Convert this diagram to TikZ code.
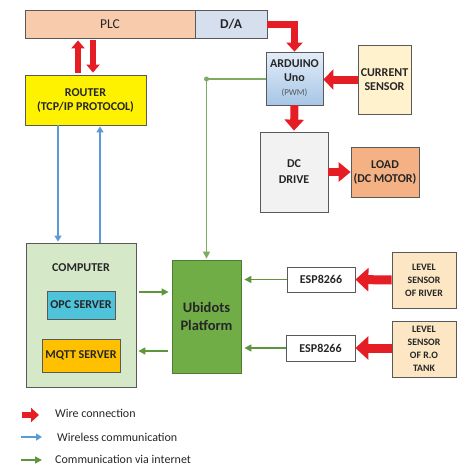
\documentclass[tikz,border=0pt]{standalone}
\usepackage{fontspec}
\setmainfont{Carlito}
\usetikzlibrary{arrows.meta,positioning,calc}
\definecolor{plcfill}{HTML}{F8CBAD}
\definecolor{dafill}{HTML}{D6DFEE}
\definecolor{routerfill}{HTML}{FFF200}
\definecolor{curfill}{HTML}{FFF2CC}
\definecolor{dcfill}{HTML}{F2F2F2}
\definecolor{loadfill}{HTML}{F4B183}
\definecolor{compfill}{HTML}{D5E8C8}
\definecolor{opcfill}{HTML}{4FC3DA}
\definecolor{mqttfill}{HTML}{FFC000}
\definecolor{ubifill}{HTML}{70AD47}
\definecolor{ubiedge}{HTML}{4E7F30}
\definecolor{lvlfill}{HTML}{FCE6C3}
\definecolor{boxedge}{HTML}{595959}
\definecolor{wirered}{HTML}{E51E25}
\definecolor{wlblue}{HTML}{5B9BD5}
\definecolor{netgreen}{HTML}{5E963D}
\definecolor{ardtop}{HTML}{E3EDF8}
\definecolor{ardbot}{HTML}{A7C6E6}
\definecolor{txt}{HTML}{262626}
\tikzset{
  blk/.style={draw=boxedge, line width=0.8pt, align=center, inner sep=0pt, text=txt,
    font=\fontsize{12}{14}\selectfont\bfseries},
  wire/.style={draw=wirered, line width=#1},
  wire/.default=7pt,
  wirehead/.style 2 args={-{Triangle[width=#1,length=#2]}},
  wless/.style={draw=wlblue, line width=1.5pt, -{Triangle[width=7pt,length=6pt]}},
  inet/.style={draw=netgreen, line width=1.5pt, -{Triangle[width=7pt,length=7pt]}},
  legtext/.style={anchor=west, font=\fontsize{12}{14}\selectfont, inner sep=0pt, text=txt}
}
\begin{document}
\begin{tikzpicture}[x=1pt,y=-1pt]
\useasboundingbox (0,0) rectangle (474,474);
% top row
\node[blk, fill=plcfill, minimum width=170pt, minimum height=28pt, font=\fontsize{13.5}{15}\selectfont] (plc) at (110,24) {PLC};
\node[blk, fill=dafill, minimum width=72pt, minimum height=28pt, font=\fontsize{13.5}{15}\selectfont\bfseries] (da) at (231,24) {D/A};
\node[blk, fill=routerfill, minimum width=121pt, minimum height=50pt] (router) at (85.5,100) {ROUTER\\(TCP/IP PROTOCOL)};
\node[blk, top color=ardtop, bottom color=ardbot, minimum width=57pt, minimum height=53pt] (ard) at (294.5,78.5) {ARDUINO\\[0pt]Uno\\[0pt]{\fontsize{9}{10}\selectfont\mdseries\color{black!65} (PWM)}};
\node[blk, fill=curfill, minimum width=53pt, minimum height=69pt] (cur) at (384.5,79.5) {CURRENT\\SENSOR};
\node[blk, fill=dcfill, minimum width=68pt, minimum height=80pt] (dc) at (294,172) {DC\\[2pt]DRIVE};
\node[blk, fill=loadfill, minimum width=68pt, minimum height=50pt] (load) at (385,172) {LOAD\\(DC MOTOR)};
% computer
\node[blk, fill=compfill, minimum width=110pt, minimum height=144pt] (comp) at (81,315) {};
\node[font=\fontsize{12}{14}\selectfont\bfseries, inner sep=0pt, text=txt] (complbl) at (81,268) {COMPUTER};
\node[blk, fill=opcfill, minimum width=68pt, minimum height=28pt] (opc) at (81,305) {OPC SERVER};
\node[blk, fill=mqttfill, minimum width=78pt, minimum height=33pt] (mqtt) at (81,355.5) {MQTT SERVER};
% ubidots
\node[blk, draw=ubiedge, fill=ubifill, minimum width=69pt, minimum height=113pt, font=\fontsize{14.5}{18}\selectfont\bfseries] (ubi) at (206.5,316.5) {Ubidots\\Platform};
% esp and level sensors
\node[blk, fill=white, minimum width=68pt, minimum height=25pt] (esp1) at (321,279.5) {ESP8266};
\node[blk, fill=white, minimum width=69pt, minimum height=26pt] (esp2) at (320.5,348) {ESP8266};
\node[blk, fill=lvlfill, minimum width=64pt, minimum height=56pt, font=\fontsize{9.8}{13}\selectfont\bfseries] (lvl1) at (424,280) {LEVEL\\SENSOR\\OF RIVER};
\node[blk, fill=lvlfill, minimum width=64pt, minimum height=56pt, font=\fontsize{9.8}{13}\selectfont\bfseries] (lvl2) at (424,349) {LEVEL\\SENSOR\\OF R.O\\TANK};
% wire connections
\draw[wire=6pt, wirehead={13pt}{8pt}, shorten >=2pt, shorten <=2pt] ([xshift=-7.5pt]router.north) -- ([xshift=-7.5pt]router.north |- plc.south);
\draw[wire=6pt, wirehead={13pt}{8pt}, shorten >=2pt, shorten <=2pt] ([xshift=7.5pt]router.north |- plc.south) -- ([xshift=7.5pt]router.north);
\draw[wire=7pt, wirehead={16pt}{9pt}, line join=miter] (da.east) -| (ard.north);
\draw[wire=8pt, wirehead={20pt}{10pt}] (cur.west) -- (ard.east |- cur.west);
\draw[wire=8pt, wirehead={19pt}{11pt}, shorten >=1pt] (ard.south) -- (dc.north);
\draw[wire=8pt, wirehead={19pt}{12pt}] (dc.east) -- (load.west);
\draw[wire=9pt, wirehead={23pt}{13pt}] (lvl1.west) -- (esp1.east);
\draw[wire=9pt, wirehead={23pt}{13pt}] (lvl2.west |- esp2.east) -- (esp2.east);
% wireless
\coordinate (bl) at (58,0);
\coordinate (br) at (100,0);
\draw[wless, shorten >=1pt] (router.south -| bl) -- (comp.north -| bl);
\draw[wless, shorten >=1pt] (comp.north -| br) -- (router.south -| br);
% internet
\coordinate (gdot) at (206.5,79);
\draw[draw=netgreen!80!white, line width=1.3pt] (gdot) -- (ard.west |- gdot);
\draw[inet, draw=netgreen!80!white, shorten >=1pt] (gdot) -- (ubi.north);
\fill[netgreen!80!white] (gdot) circle (2.5pt);
\coordinate (g1) at (0,292);
\coordinate (g2) at (0,351);
\draw[inet, shorten >=3pt, shorten <=3pt] (comp.east |- g1) -- (ubi.west |- g1);
\draw[inet, shorten >=2pt, shorten <=4pt] (ubi.west |- g2) -- (comp.east |- g2);
\draw[inet, shorten >=3pt] (esp1.west) -- (ubi.east |- esp1.west);
\draw[inet, shorten >=3pt] (esp2.west) -- (ubi.east |- esp2.west);
% legend
\coordinate (lr1) at (22,415); \coordinate (lr2) at (39,415);
\coordinate (lb1) at (21,437); \coordinate (lb2) at (42,437);
\coordinate (lg1) at (21,460); \coordinate (lg2) at (42,460);
\draw[wire=6pt, wirehead={14pt}{8pt}] (lr1) -- (lr2);
\draw[wless] (lb1) -- (lb2);
\draw[inet] (lg1) -- (lg2);
\node[legtext] (t1) at (55,413) {Wire connection};
\node[legtext] (t2) at (57,437) {Wireless communication};
\node[legtext] (t3) at (55,459) {Communication via internet};
\end{tikzpicture}
\end{document}
